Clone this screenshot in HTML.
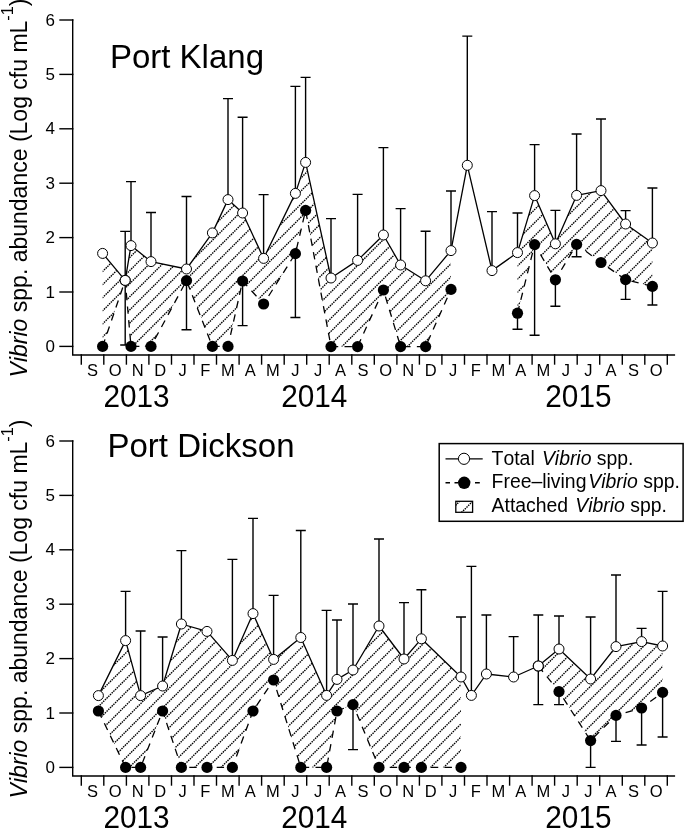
<!DOCTYPE html>
<html><head><meta charset="utf-8"><style>html,body{margin:0;padding:0;background:#fff}svg{display:block}</style></head>
<body><svg width="685" height="830" viewBox="0 0 685 830" font-family="'Liberation Sans', Arial, sans-serif" fill="#000">
<defs>

</defs>
<style>
path,polyline{fill:none;stroke:#000;stroke-width:1.4}
.ax{stroke-width:1.4;stroke-linecap:square}
.tot{stroke-width:1.3;stroke-linejoin:round}
.dash{stroke-width:1.3;stroke-dasharray:7.4 6.3}
.oc{fill:#fff;stroke:#000;stroke-width:1}
text{stroke:none;font-kerning:none}
</style>
<rect width="685" height="830" fill="#fff"/>
<clipPath id="c00"><polygon points="102.6,253.4 125.2,280.4 131.0,245.6 151.0,261.6 186.5,269.0 212.4,232.9 228.0,199.6 242.6,213.0 263.6,258.4 295.4,193.4 305.6,162.4 331.0,278.0 357.6,260.4 383.4,235.0 400.6,265.0 425.6,280.8 451.0,250.6 451.0,289.4 425.6,346.6 400.6,346.6 383.4,290.0 357.6,346.6 331.0,346.6 305.6,210.4 295.4,253.6 263.6,304.0 242.6,281.0 228.0,346.4 212.4,346.4 186.5,280.6 151.0,346.4 131.0,346.4 125.2,280.4 102.6,346.4"/></clipPath><path clip-path="url(#c00)" d="M100.60 168.70L108.90 160.40M100.60 181.80L122.00 160.40M100.60 194.90L135.10 160.40M100.60 208.00L148.20 160.40M100.60 221.10L161.30 160.40M100.60 234.20L174.40 160.40M100.60 247.30L187.50 160.40M100.60 260.40L200.60 160.40M100.60 273.50L213.70 160.40M100.60 286.60L226.80 160.40M100.60 299.70L239.90 160.40M100.60 312.80L253.00 160.40M100.60 325.90L266.10 160.40M100.60 339.00L279.20 160.40M104.10 348.60L292.30 160.40M117.20 348.60L305.40 160.40M130.30 348.60L318.50 160.40M143.40 348.60L331.60 160.40M156.50 348.60L344.70 160.40M169.60 348.60L357.80 160.40M182.70 348.60L370.90 160.40M195.80 348.60L384.00 160.40M208.90 348.60L397.10 160.40M222.00 348.60L410.20 160.40M235.10 348.60L423.30 160.40M248.20 348.60L436.40 160.40M261.30 348.60L449.50 160.40M274.40 348.60L453.00 170.00M287.50 348.60L453.00 183.10M300.60 348.60L453.00 196.20M313.70 348.60L453.00 209.30M326.80 348.60L453.00 222.40M339.90 348.60L453.00 235.50M353.00 348.60L453.00 248.60M366.10 348.60L453.00 261.70M379.20 348.60L453.00 274.80M392.30 348.60L453.00 287.90M405.40 348.60L453.00 301.00M418.50 348.60L453.00 314.10M431.60 348.60L453.00 327.20M444.70 348.60L453.00 340.30" style="stroke-width:1.40;stroke-dasharray:1.5 0.9"/>
<clipPath id="c01"><polygon points="517.5,252.6 534.6,195.6 555.4,243.8 576.6,195.4 601.0,190.6 625.6,224.0 652.4,243.0 652.4,286.4 625.6,279.6 601.0,262.5 576.6,244.4 555.4,279.8 534.6,244.6 517.5,313.2"/></clipPath><path clip-path="url(#c01)" d="M515.50 189.40L516.30 188.60M515.50 202.50L529.40 188.60M515.50 215.60L542.50 188.60M515.50 228.70L555.60 188.60M515.50 241.80L568.70 188.60M515.50 254.90L581.80 188.60M515.50 268.00L594.90 188.60M515.50 281.10L608.00 188.60M515.50 294.20L621.10 188.60M515.50 307.30L634.20 188.60M520.70 315.20L647.30 188.60M533.80 315.20L654.40 194.60M546.90 315.20L654.40 207.70M560.00 315.20L654.40 220.80M573.10 315.20L654.40 233.90M586.20 315.20L654.40 247.00M599.30 315.20L654.40 260.10M612.40 315.20L654.40 273.20M625.50 315.20L654.40 286.30M638.60 315.20L654.40 299.40M651.70 315.20L654.40 312.50" style="stroke-width:1.40;stroke-dasharray:1.5 0.9"/>
<path d="M125.2 280.4V231.4M120.2 231.4H130.2"/>
<path d="M125.2 280.4V345.0M120.2 345.0H130.2"/>
<path d="M131.0 245.6V181.6M126.0 181.6H136.0"/>
<path d="M151.0 261.6V212.5M146.0 212.5H156.0"/>
<path d="M186.5 269.0V196.5M181.5 196.5H191.5"/>
<path d="M186.5 280.6V329.8M181.5 329.8H191.5"/>
<path d="M228.0 199.6V98.6M223.0 98.6H233.0"/>
<path d="M242.6 213.0V117.2M237.6 117.2H247.6"/>
<path d="M242.6 281.0V325.6M237.6 325.6H247.6"/>
<path d="M263.6 258.4V194.6M258.6 194.6H268.6"/>
<path d="M295.4 193.4V86.4M290.4 86.4H300.4"/>
<path d="M295.4 253.6V317.5M290.4 317.5H300.4"/>
<path d="M305.6 162.4V77.4M300.6 77.4H310.6"/>
<path d="M331.0 278.0V218.6M326.0 218.6H336.0"/>
<path d="M357.6 260.4V194.4M352.6 194.4H362.6"/>
<path d="M383.4 235.0V147.6M378.4 147.6H388.4"/>
<path d="M400.6 265.0V208.6M395.6 208.6H405.6"/>
<path d="M425.6 280.8V231.2M420.6 231.2H430.6"/>
<path d="M451.0 250.6V191.0M446.0 191.0H456.0"/>
<path d="M467.3 165.3V36.1M462.3 36.1H472.3"/>
<path d="M492.0 270.6V211.6M487.0 211.6H497.0"/>
<path d="M517.5 252.6V213.0M512.5 213.0H522.5"/>
<path d="M517.5 313.2V329.2M512.5 329.2H522.5"/>
<path d="M534.6 195.6V144.6M529.6 144.6H539.6"/>
<path d="M534.6 244.6V335.3M529.6 335.3H539.6"/>
<path d="M555.4 243.8V210.4M550.4 210.4H560.4"/>
<path d="M555.4 279.8V306.2M550.4 306.2H560.4"/>
<path d="M576.6 195.4V134.0M571.6 134.0H581.6"/>
<path d="M576.6 244.4V256.8M571.6 256.8H581.6"/>
<path d="M601.0 190.6V119.0M596.0 119.0H606.0"/>
<path d="M625.6 224.0V210.6M620.6 210.6H630.6"/>
<path d="M625.6 279.6V299.4M620.6 299.4H630.6"/>
<path d="M652.4 243.0V188.0M647.4 188.0H657.4"/>
<path d="M652.4 286.4V305.0M647.4 305.0H657.4"/>
<polyline class="dash" points="102.6,346.4 125.2,280.4 131.0,346.4 151.0,346.4 186.5,280.6 212.4,346.4 228.0,346.4 242.6,281.0 263.6,304.0 295.4,253.6 305.6,210.4 331.0,346.6 357.6,346.6 383.4,290.0 400.6,346.6 425.6,346.6 451.0,289.4"/>
<polyline class="dash" points="517.5,313.2 534.6,244.6 555.4,279.8 576.6,244.4 601.0,262.5 625.6,279.6 652.4,286.4"/>
<polyline class="tot" points="102.6,253.4 125.2,280.4 131.0,245.6 151.0,261.6 186.5,269.0 212.4,232.9 228.0,199.6 242.6,213.0 263.6,258.4 295.4,193.4 305.6,162.4 331.0,278.0 357.6,260.4 383.4,235.0 400.6,265.0 425.6,280.8 451.0,250.6 467.3,165.3 492.0,270.6 517.5,252.6 534.6,195.6 555.4,243.8 576.6,195.4 601.0,190.6 625.6,224.0 652.4,243.0"/>
<circle cx="102.6" cy="346.4" r="5.6" fill="#000" stroke="none"/>
<circle cx="125.2" cy="280.4" r="5.6" fill="#000" stroke="none"/>
<circle cx="131.0" cy="346.4" r="5.6" fill="#000" stroke="none"/>
<circle cx="151.0" cy="346.4" r="5.6" fill="#000" stroke="none"/>
<circle cx="186.5" cy="280.6" r="5.6" fill="#000" stroke="none"/>
<circle cx="212.4" cy="346.4" r="5.6" fill="#000" stroke="none"/>
<circle cx="228.0" cy="346.4" r="5.6" fill="#000" stroke="none"/>
<circle cx="242.6" cy="281.0" r="5.6" fill="#000" stroke="none"/>
<circle cx="263.6" cy="304.0" r="5.6" fill="#000" stroke="none"/>
<circle cx="295.4" cy="253.6" r="5.6" fill="#000" stroke="none"/>
<circle cx="305.6" cy="210.4" r="5.6" fill="#000" stroke="none"/>
<circle cx="331.0" cy="346.6" r="5.6" fill="#000" stroke="none"/>
<circle cx="357.6" cy="346.6" r="5.6" fill="#000" stroke="none"/>
<circle cx="383.4" cy="290.0" r="5.6" fill="#000" stroke="none"/>
<circle cx="400.6" cy="346.6" r="5.6" fill="#000" stroke="none"/>
<circle cx="425.6" cy="346.6" r="5.6" fill="#000" stroke="none"/>
<circle cx="451.0" cy="289.4" r="5.6" fill="#000" stroke="none"/>
<circle cx="517.5" cy="313.2" r="5.6" fill="#000" stroke="none"/>
<circle cx="534.6" cy="244.6" r="5.6" fill="#000" stroke="none"/>
<circle cx="555.4" cy="279.8" r="5.6" fill="#000" stroke="none"/>
<circle cx="576.6" cy="244.4" r="5.6" fill="#000" stroke="none"/>
<circle cx="601.0" cy="262.5" r="5.6" fill="#000" stroke="none"/>
<circle cx="625.6" cy="279.6" r="5.6" fill="#000" stroke="none"/>
<circle cx="652.4" cy="286.4" r="5.6" fill="#000" stroke="none"/>
<circle class="oc" cx="102.6" cy="253.4" r="5.0"/>
<circle class="oc" cx="125.2" cy="280.4" r="5.0"/>
<circle class="oc" cx="131.0" cy="245.6" r="5.0"/>
<circle class="oc" cx="151.0" cy="261.6" r="5.0"/>
<circle class="oc" cx="186.5" cy="269.0" r="5.0"/>
<circle class="oc" cx="212.4" cy="232.9" r="5.0"/>
<circle class="oc" cx="228.0" cy="199.6" r="5.0"/>
<circle class="oc" cx="242.6" cy="213.0" r="5.0"/>
<circle class="oc" cx="263.6" cy="258.4" r="5.0"/>
<circle class="oc" cx="295.4" cy="193.4" r="5.0"/>
<circle class="oc" cx="305.6" cy="162.4" r="5.0"/>
<circle class="oc" cx="331.0" cy="278.0" r="5.0"/>
<circle class="oc" cx="357.6" cy="260.4" r="5.0"/>
<circle class="oc" cx="383.4" cy="235.0" r="5.0"/>
<circle class="oc" cx="400.6" cy="265.0" r="5.0"/>
<circle class="oc" cx="425.6" cy="280.8" r="5.0"/>
<circle class="oc" cx="451.0" cy="250.6" r="5.0"/>
<circle class="oc" cx="467.3" cy="165.3" r="5.0"/>
<circle class="oc" cx="492.0" cy="270.6" r="5.0"/>
<circle class="oc" cx="517.5" cy="252.6" r="5.0"/>
<circle class="oc" cx="534.6" cy="195.6" r="5.0"/>
<circle class="oc" cx="555.4" cy="243.8" r="5.0"/>
<circle class="oc" cx="576.6" cy="195.4" r="5.0"/>
<circle class="oc" cx="601.0" cy="190.6" r="5.0"/>
<circle class="oc" cx="625.6" cy="224.0" r="5.0"/>
<circle class="oc" cx="652.4" cy="243.0" r="5.0"/>
<path class="ax" d="M72.7 20.0V355.0H674.4"/>
<path class="ax" d="M60 346.4H72.7"/>
<text x="55" y="352.0" text-anchor="end" font-size="17">0</text>
<path class="ax" d="M60 292.0H72.7"/>
<text x="55" y="297.6" text-anchor="end" font-size="17">1</text>
<path class="ax" d="M60 237.6H72.7"/>
<text x="55" y="243.2" text-anchor="end" font-size="17">2</text>
<path class="ax" d="M60 183.2H72.7"/>
<text x="55" y="188.8" text-anchor="end" font-size="17">3</text>
<path class="ax" d="M60 128.8H72.7"/>
<text x="55" y="134.4" text-anchor="end" font-size="17">4</text>
<path class="ax" d="M60 74.4H72.7"/>
<text x="55" y="80.0" text-anchor="end" font-size="17">5</text>
<path class="ax" d="M60 20.0H72.7"/>
<text x="55" y="25.6" text-anchor="end" font-size="17">6</text>
<path class="ax" d="M81.3 355.0V364.0"/>
<path class="ax" d="M103.8 355.0V364.0"/>
<path class="ax" d="M126.4 355.0V364.0"/>
<path class="ax" d="M148.9 355.0V364.0"/>
<path class="ax" d="M171.5 355.0V364.0"/>
<path class="ax" d="M194.0 355.0V364.0"/>
<path class="ax" d="M216.5 355.0V364.0"/>
<path class="ax" d="M239.1 355.0V364.0"/>
<path class="ax" d="M261.6 355.0V364.0"/>
<path class="ax" d="M284.2 355.0V364.0"/>
<path class="ax" d="M306.7 355.0V364.0"/>
<path class="ax" d="M329.2 355.0V364.0"/>
<path class="ax" d="M351.8 355.0V364.0"/>
<path class="ax" d="M374.3 355.0V364.0"/>
<path class="ax" d="M396.9 355.0V364.0"/>
<path class="ax" d="M419.4 355.0V364.0"/>
<path class="ax" d="M441.9 355.0V364.0"/>
<path class="ax" d="M464.5 355.0V364.0"/>
<path class="ax" d="M487.0 355.0V364.0"/>
<path class="ax" d="M509.6 355.0V364.0"/>
<path class="ax" d="M532.1 355.0V364.0"/>
<path class="ax" d="M554.6 355.0V364.0"/>
<path class="ax" d="M577.2 355.0V364.0"/>
<path class="ax" d="M599.7 355.0V364.0"/>
<path class="ax" d="M622.3 355.0V364.0"/>
<path class="ax" d="M644.8 355.0V364.0"/>
<path class="ax" d="M667.3 355.0V364.0"/>
<text x="92.6" y="375.7" text-anchor="middle" font-size="16.5">S</text>
<text x="115.1" y="375.7" text-anchor="middle" font-size="16.5">O</text>
<text x="137.6" y="375.7" text-anchor="middle" font-size="16.5">N</text>
<text x="160.2" y="375.7" text-anchor="middle" font-size="16.5">D</text>
<text x="182.7" y="375.7" text-anchor="middle" font-size="16.5">J</text>
<text x="205.3" y="375.7" text-anchor="middle" font-size="16.5">F</text>
<text x="227.8" y="375.7" text-anchor="middle" font-size="16.5">M</text>
<text x="250.3" y="375.7" text-anchor="middle" font-size="16.5">A</text>
<text x="272.9" y="375.7" text-anchor="middle" font-size="16.5">M</text>
<text x="295.4" y="375.7" text-anchor="middle" font-size="16.5">J</text>
<text x="318.0" y="375.7" text-anchor="middle" font-size="16.5">J</text>
<text x="340.5" y="375.7" text-anchor="middle" font-size="16.5">A</text>
<text x="363.1" y="375.7" text-anchor="middle" font-size="16.5">S</text>
<text x="385.6" y="375.7" text-anchor="middle" font-size="16.5">O</text>
<text x="408.1" y="375.7" text-anchor="middle" font-size="16.5">N</text>
<text x="430.7" y="375.7" text-anchor="middle" font-size="16.5">D</text>
<text x="453.2" y="375.7" text-anchor="middle" font-size="16.5">J</text>
<text x="475.8" y="375.7" text-anchor="middle" font-size="16.5">F</text>
<text x="498.3" y="375.7" text-anchor="middle" font-size="16.5">M</text>
<text x="520.8" y="375.7" text-anchor="middle" font-size="16.5">A</text>
<text x="543.4" y="375.7" text-anchor="middle" font-size="16.5">M</text>
<text x="565.9" y="375.7" text-anchor="middle" font-size="16.5">J</text>
<text x="588.4" y="375.7" text-anchor="middle" font-size="16.5">J</text>
<text x="611.0" y="375.7" text-anchor="middle" font-size="16.5">A</text>
<text x="633.5" y="375.7" text-anchor="middle" font-size="16.5">S</text>
<text x="656.1" y="375.7" text-anchor="middle" font-size="16.5">O</text>
<text transform="translate(104.9 406.5) scale(0.93 1)" x="-1.6" font-size="32">2013</text>
<text transform="translate(282.6 406.5) scale(0.93 1)" x="-1.6" font-size="32">2014</text>
<text transform="translate(546.8 406.5) scale(0.93 1)" x="-1.6" font-size="32">2015</text>
<text x="109.9" y="68.3" font-size="33">Port Klang</text>
<text transform="translate(26.8 377.4) rotate(-90)" font-size="23"><tspan font-style="italic">Vibrio</tspan> spp. abundance (Log cfu mL<tspan font-size="16.2" dy="-14.3">-1</tspan><tspan dy="14.3">)</tspan></text>
<clipPath id="c10"><polygon points="98.4,695.6 125.6,640.6 140.6,695.6 162.6,686.0 181.4,624.0 207.0,631.4 232.4,660.4 253.0,613.6 273.6,659.4 300.8,637.5 326.6,695.4 337.0,679.4 353.0,670.0 379.0,626.0 404.0,659.0 421.4,638.8 461.0,677.0 461.0,767.4 421.4,767.4 404.0,767.4 379.0,767.4 353.0,704.6 337.0,711.0 326.6,767.4 300.8,767.4 273.6,680.0 253.0,711.0 232.4,767.4 207.0,767.4 181.4,767.4 162.6,711.0 140.6,767.4 125.6,767.4 98.4,711.0"/></clipPath><path clip-path="url(#c10)" d="M96.40 616.90L101.70 611.60M96.40 630.00L114.80 611.60M96.40 643.10L127.90 611.60M96.40 656.20L141.00 611.60M96.40 669.30L154.10 611.60M96.40 682.40L167.20 611.60M96.40 695.50L180.30 611.60M96.40 708.60L193.40 611.60M96.40 721.70L206.50 611.60M96.40 734.80L219.60 611.60M96.40 747.90L232.70 611.60M96.40 761.00L245.80 611.60M101.10 769.40L258.90 611.60M114.20 769.40L272.00 611.60M127.30 769.40L285.10 611.60M140.40 769.40L298.20 611.60M153.50 769.40L311.30 611.60M166.60 769.40L324.40 611.60M179.70 769.40L337.50 611.60M192.80 769.40L350.60 611.60M205.90 769.40L363.70 611.60M219.00 769.40L376.80 611.60M232.10 769.40L389.90 611.60M245.20 769.40L403.00 611.60M258.30 769.40L416.10 611.60M271.40 769.40L429.20 611.60M284.50 769.40L442.30 611.60M297.60 769.40L455.40 611.60M310.70 769.40L463.00 617.10M323.80 769.40L463.00 630.20M336.90 769.40L463.00 643.30M350.00 769.40L463.00 656.40M363.10 769.40L463.00 669.50M376.20 769.40L463.00 682.60M389.30 769.40L463.00 695.70M402.40 769.40L463.00 708.80M415.50 769.40L463.00 721.90M428.60 769.40L463.00 735.00M441.70 769.40L463.00 748.10M454.80 769.40L463.00 761.20" style="stroke-width:1.40;stroke-dasharray:1.5 0.9"/>
<clipPath id="c11"><polygon points="538.3,666.0 559.0,649.0 590.6,679.0 616.0,646.6 641.6,641.6 662.6,646.0 662.6,692.4 641.6,708.0 616.0,715.4 590.6,740.6 559.0,691.6 538.3,666.0"/></clipPath><path clip-path="url(#c11)" d="M536.30 648.80L545.50 639.60M536.30 661.90L558.60 639.60M536.30 675.00L571.70 639.60M536.30 688.10L584.80 639.60M536.30 701.20L597.90 639.60M536.30 714.30L611.00 639.60M536.30 727.40L624.10 639.60M536.30 740.50L637.20 639.60M547.30 742.60L650.30 639.60M560.40 742.60L663.40 639.60M573.50 742.60L664.60 651.50M586.60 742.60L664.60 664.60M599.70 742.60L664.60 677.70M612.80 742.60L664.60 690.80M625.90 742.60L664.60 703.90M639.00 742.60L664.60 717.00M652.10 742.60L664.60 730.10" style="stroke-width:1.40;stroke-dasharray:1.5 0.9"/>
<path d="M125.6 640.6V591.4M120.6 591.4H130.6"/>
<path d="M140.6 695.6V631.0M135.6 631.0H145.6"/>
<path d="M162.6 686.0V637.0M157.6 637.0H167.6"/>
<path d="M181.4 624.0V550.6M176.4 550.6H186.4"/>
<path d="M232.4 660.4V559.4M227.4 559.4H237.4"/>
<path d="M253.0 613.6V518.4M248.0 518.4H258.0"/>
<path d="M273.6 659.4V595.4M268.6 595.4H278.6"/>
<path d="M300.8 637.5V530.5M295.8 530.5H305.8"/>
<path d="M326.6 695.4V610.4M321.6 610.4H331.6"/>
<path d="M337.0 679.4V620.0M332.0 620.0H342.0"/>
<path d="M353.0 670.0V604.0M348.0 604.0H358.0"/>
<path d="M353.0 704.6V749.6M348.0 749.6H358.0"/>
<path d="M379.0 626.0V539.0M374.0 539.0H384.0"/>
<path d="M404.0 659.0V602.6M399.0 602.6H409.0"/>
<path d="M421.4 638.8V589.8M416.4 589.8H426.4"/>
<path d="M461.0 677.0V617.0M456.0 617.0H466.0"/>
<path d="M471.4 695.4V566.4M466.4 566.4H476.4"/>
<path d="M486.4 674.0V615.0M481.4 615.0H491.4"/>
<path d="M513.6 677.0V636.6M508.6 636.6H518.6"/>
<path d="M538.3 666.0V615.0M533.3 615.0H543.3"/>
<path d="M538.3 666.0V704.6M533.3 704.6H543.3"/>
<path d="M559.0 649.0V616.0M554.0 616.0H564.0"/>
<path d="M559.0 691.6V704.6M554.0 704.6H564.0"/>
<path d="M590.6 679.0V617.0M585.6 617.0H595.6"/>
<path d="M590.6 740.6V767.4M585.6 767.4H595.6"/>
<path d="M616.0 646.6V575.0M611.0 575.0H621.0"/>
<path d="M616.0 715.4V741.4M611.0 741.4H621.0"/>
<path d="M641.6 641.6V628.4M636.6 628.4H646.6"/>
<path d="M641.6 708.0V745.0M636.6 745.0H646.6"/>
<path d="M662.6 646.0V591.4M657.6 591.4H667.6"/>
<path d="M662.6 692.4V737.0M657.6 737.0H667.6"/>
<polyline class="dash" points="98.4,711.0 125.6,767.4 140.6,767.4 162.6,711.0 181.4,767.4 207.0,767.4 232.4,767.4 253.0,711.0 273.6,680.0 300.8,767.4 326.6,767.4 337.0,711.0 353.0,704.6 379.0,767.4 404.0,767.4 421.4,767.4 461.0,767.4"/>
<polyline class="dash" points="538.3,666.0 559.0,691.6 590.6,740.6 616.0,715.4 641.6,708.0 662.6,692.4"/>
<polyline class="tot" points="98.4,695.6 125.6,640.6 140.6,695.6 162.6,686.0 181.4,624.0 207.0,631.4 232.4,660.4 253.0,613.6 273.6,659.4 300.8,637.5 326.6,695.4 337.0,679.4 353.0,670.0 379.0,626.0 404.0,659.0 421.4,638.8 461.0,677.0 471.4,695.4 486.4,674.0 513.6,677.0 538.3,666.0 559.0,649.0 590.6,679.0 616.0,646.6 641.6,641.6 662.6,646.0"/>
<circle cx="98.4" cy="711.0" r="5.6" fill="#000" stroke="none"/>
<circle cx="125.6" cy="767.4" r="5.6" fill="#000" stroke="none"/>
<circle cx="140.6" cy="767.4" r="5.6" fill="#000" stroke="none"/>
<circle cx="162.6" cy="711.0" r="5.6" fill="#000" stroke="none"/>
<circle cx="181.4" cy="767.4" r="5.6" fill="#000" stroke="none"/>
<circle cx="207.0" cy="767.4" r="5.6" fill="#000" stroke="none"/>
<circle cx="232.4" cy="767.4" r="5.6" fill="#000" stroke="none"/>
<circle cx="253.0" cy="711.0" r="5.6" fill="#000" stroke="none"/>
<circle cx="273.6" cy="680.0" r="5.6" fill="#000" stroke="none"/>
<circle cx="300.8" cy="767.4" r="5.6" fill="#000" stroke="none"/>
<circle cx="326.6" cy="767.4" r="5.6" fill="#000" stroke="none"/>
<circle cx="337.0" cy="711.0" r="5.6" fill="#000" stroke="none"/>
<circle cx="353.0" cy="704.6" r="5.6" fill="#000" stroke="none"/>
<circle cx="379.0" cy="767.4" r="5.6" fill="#000" stroke="none"/>
<circle cx="404.0" cy="767.4" r="5.6" fill="#000" stroke="none"/>
<circle cx="421.4" cy="767.4" r="5.6" fill="#000" stroke="none"/>
<circle cx="461.0" cy="767.4" r="5.6" fill="#000" stroke="none"/>
<circle cx="538.3" cy="666.0" r="5.6" fill="#000" stroke="none"/>
<circle cx="559.0" cy="691.6" r="5.6" fill="#000" stroke="none"/>
<circle cx="590.6" cy="740.6" r="5.6" fill="#000" stroke="none"/>
<circle cx="616.0" cy="715.4" r="5.6" fill="#000" stroke="none"/>
<circle cx="641.6" cy="708.0" r="5.6" fill="#000" stroke="none"/>
<circle cx="662.6" cy="692.4" r="5.6" fill="#000" stroke="none"/>
<circle class="oc" cx="98.4" cy="695.6" r="5.0"/>
<circle class="oc" cx="125.6" cy="640.6" r="5.0"/>
<circle class="oc" cx="140.6" cy="695.6" r="5.0"/>
<circle class="oc" cx="162.6" cy="686.0" r="5.0"/>
<circle class="oc" cx="181.4" cy="624.0" r="5.0"/>
<circle class="oc" cx="207.0" cy="631.4" r="5.0"/>
<circle class="oc" cx="232.4" cy="660.4" r="5.0"/>
<circle class="oc" cx="253.0" cy="613.6" r="5.0"/>
<circle class="oc" cx="273.6" cy="659.4" r="5.0"/>
<circle class="oc" cx="300.8" cy="637.5" r="5.0"/>
<circle class="oc" cx="326.6" cy="695.4" r="5.0"/>
<circle class="oc" cx="337.0" cy="679.4" r="5.0"/>
<circle class="oc" cx="353.0" cy="670.0" r="5.0"/>
<circle class="oc" cx="379.0" cy="626.0" r="5.0"/>
<circle class="oc" cx="404.0" cy="659.0" r="5.0"/>
<circle class="oc" cx="421.4" cy="638.8" r="5.0"/>
<circle class="oc" cx="461.0" cy="677.0" r="5.0"/>
<circle class="oc" cx="471.4" cy="695.4" r="5.0"/>
<circle class="oc" cx="486.4" cy="674.0" r="5.0"/>
<circle class="oc" cx="513.6" cy="677.0" r="5.0"/>
<circle class="oc" cx="538.3" cy="666.0" r="5.0"/>
<circle class="oc" cx="559.0" cy="649.0" r="5.0"/>
<circle class="oc" cx="590.6" cy="679.0" r="5.0"/>
<circle class="oc" cx="616.0" cy="646.6" r="5.0"/>
<circle class="oc" cx="641.6" cy="641.6" r="5.0"/>
<circle class="oc" cx="662.6" cy="646.0" r="5.0"/>
<path class="ax" d="M72.7 441.0V776.0H674.4"/>
<path class="ax" d="M60 767.4H72.7"/>
<text x="55" y="773.0" text-anchor="end" font-size="17">0</text>
<path class="ax" d="M60 713.0H72.7"/>
<text x="55" y="718.6" text-anchor="end" font-size="17">1</text>
<path class="ax" d="M60 658.6H72.7"/>
<text x="55" y="664.2" text-anchor="end" font-size="17">2</text>
<path class="ax" d="M60 604.2H72.7"/>
<text x="55" y="609.8" text-anchor="end" font-size="17">3</text>
<path class="ax" d="M60 549.8H72.7"/>
<text x="55" y="555.4" text-anchor="end" font-size="17">4</text>
<path class="ax" d="M60 495.4H72.7"/>
<text x="55" y="501.0" text-anchor="end" font-size="17">5</text>
<path class="ax" d="M60 441.0H72.7"/>
<text x="55" y="446.6" text-anchor="end" font-size="17">6</text>
<path class="ax" d="M81.3 776.0V785.0"/>
<path class="ax" d="M103.8 776.0V785.0"/>
<path class="ax" d="M126.4 776.0V785.0"/>
<path class="ax" d="M148.9 776.0V785.0"/>
<path class="ax" d="M171.5 776.0V785.0"/>
<path class="ax" d="M194.0 776.0V785.0"/>
<path class="ax" d="M216.5 776.0V785.0"/>
<path class="ax" d="M239.1 776.0V785.0"/>
<path class="ax" d="M261.6 776.0V785.0"/>
<path class="ax" d="M284.2 776.0V785.0"/>
<path class="ax" d="M306.7 776.0V785.0"/>
<path class="ax" d="M329.2 776.0V785.0"/>
<path class="ax" d="M351.8 776.0V785.0"/>
<path class="ax" d="M374.3 776.0V785.0"/>
<path class="ax" d="M396.9 776.0V785.0"/>
<path class="ax" d="M419.4 776.0V785.0"/>
<path class="ax" d="M441.9 776.0V785.0"/>
<path class="ax" d="M464.5 776.0V785.0"/>
<path class="ax" d="M487.0 776.0V785.0"/>
<path class="ax" d="M509.6 776.0V785.0"/>
<path class="ax" d="M532.1 776.0V785.0"/>
<path class="ax" d="M554.6 776.0V785.0"/>
<path class="ax" d="M577.2 776.0V785.0"/>
<path class="ax" d="M599.7 776.0V785.0"/>
<path class="ax" d="M622.3 776.0V785.0"/>
<path class="ax" d="M644.8 776.0V785.0"/>
<path class="ax" d="M667.3 776.0V785.0"/>
<text x="92.6" y="796.7" text-anchor="middle" font-size="16.5">S</text>
<text x="115.1" y="796.7" text-anchor="middle" font-size="16.5">O</text>
<text x="137.6" y="796.7" text-anchor="middle" font-size="16.5">N</text>
<text x="160.2" y="796.7" text-anchor="middle" font-size="16.5">D</text>
<text x="182.7" y="796.7" text-anchor="middle" font-size="16.5">J</text>
<text x="205.3" y="796.7" text-anchor="middle" font-size="16.5">F</text>
<text x="227.8" y="796.7" text-anchor="middle" font-size="16.5">M</text>
<text x="250.3" y="796.7" text-anchor="middle" font-size="16.5">A</text>
<text x="272.9" y="796.7" text-anchor="middle" font-size="16.5">M</text>
<text x="295.4" y="796.7" text-anchor="middle" font-size="16.5">J</text>
<text x="318.0" y="796.7" text-anchor="middle" font-size="16.5">J</text>
<text x="340.5" y="796.7" text-anchor="middle" font-size="16.5">A</text>
<text x="363.1" y="796.7" text-anchor="middle" font-size="16.5">S</text>
<text x="385.6" y="796.7" text-anchor="middle" font-size="16.5">O</text>
<text x="408.1" y="796.7" text-anchor="middle" font-size="16.5">N</text>
<text x="430.7" y="796.7" text-anchor="middle" font-size="16.5">D</text>
<text x="453.2" y="796.7" text-anchor="middle" font-size="16.5">J</text>
<text x="475.8" y="796.7" text-anchor="middle" font-size="16.5">F</text>
<text x="498.3" y="796.7" text-anchor="middle" font-size="16.5">M</text>
<text x="520.8" y="796.7" text-anchor="middle" font-size="16.5">A</text>
<text x="543.4" y="796.7" text-anchor="middle" font-size="16.5">M</text>
<text x="565.9" y="796.7" text-anchor="middle" font-size="16.5">J</text>
<text x="588.4" y="796.7" text-anchor="middle" font-size="16.5">J</text>
<text x="611.0" y="796.7" text-anchor="middle" font-size="16.5">A</text>
<text x="633.5" y="796.7" text-anchor="middle" font-size="16.5">S</text>
<text x="656.1" y="796.7" text-anchor="middle" font-size="16.5">O</text>
<text transform="translate(104.9 828.1) scale(0.93 1)" x="-1.6" font-size="32">2013</text>
<text transform="translate(282.6 828.1) scale(0.93 1)" x="-1.6" font-size="32">2014</text>
<text transform="translate(546.8 828.1) scale(0.93 1)" x="-1.6" font-size="32">2015</text>
<text x="107.5" y="456.8" font-size="33">Port Dickson</text>
<text transform="translate(26.8 798.4) rotate(-90)" font-size="23"><tspan font-style="italic">Vibrio</tspan> spp. abundance (Log cfu mL<tspan font-size="16.2" dy="-14.3">-1</tspan><tspan dy="14.3">)</tspan></text>
<rect x="439.2" y="443.6" width="243.9" height="77.7" fill="#fff" stroke="#000" stroke-width="1.5"/>
<path class="tot" d="M445.5 458.8H482.7"/>
<circle class="oc" cx="464" cy="458.8" r="5.6"/>
<path d="M445.5 482.8H450M454.5 482.8H458M475 482.8H479.8" stroke-width="1.3"/>
<circle cx="464.2" cy="482.8" r="6.2" fill="#000" stroke="none"/>
<clipPath id="cl"><polygon points="455.8,501.3 472.6,501.3 472.6,512.3 455.8,512.3"/></clipPath><path clip-path="url(#cl)" d="M453.80 507.10L461.60 499.30M459.70 514.30L474.60 499.40M472.80 514.30L474.60 512.50" style="stroke-width:1.40;stroke-dasharray:1.5 0.9"/>
<rect x="455.8" y="501.3" width="16.8" height="11" fill="none" stroke="#000" stroke-width="1.3"/>
<text x="491.6" y="465.1" font-size="19.4">Total <tspan font-style="italic" dx="1.8">Vibrio</tspan> spp.</text>
<text x="491.6" y="488.2" font-size="19.4">Free–living<tspan font-style="italic" dx="1.8">Vibrio</tspan> spp.</text>
<text x="491.6" y="512.3" font-size="19.4">Attached <tspan font-style="italic" dx="1.8">Vibrio</tspan> spp.</text>
</svg></body></html>
